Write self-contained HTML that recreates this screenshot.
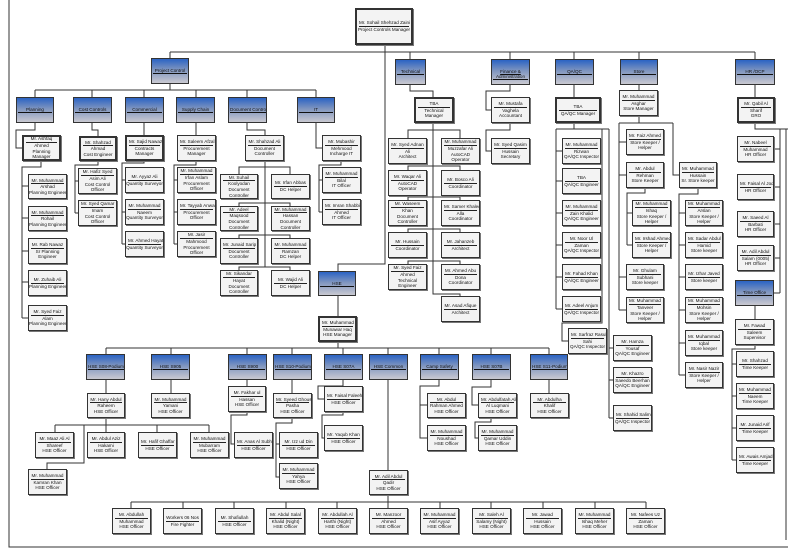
<!DOCTYPE html>
<html><head><meta charset="utf-8">
<style>
html,body{margin:0;padding:0;background:#fff;}
#c{position:relative;width:788px;height:553px;overflow:hidden;background:#fff;font-family:"Liberation Sans",sans-serif;}
.b{position:absolute;box-sizing:border-box;border:1px solid #333;background:#f3f3f3;box-shadow:1px 1px 0 #777;font-size:4.6px;line-height:5.6px;text-align:center;color:#111;display:flex;flex-direction:column;justify-content:center;overflow:hidden;white-space:nowrap;}
.b.t{border:2px solid #333;}
.b .n{border-bottom:0.8px solid #222;margin:0 2px;}
.h{position:absolute;box-sizing:border-box;border:1px solid #333;background:linear-gradient(#2b63c4 0%,#7f95bf 45%,#c9c9d1 100%);font-size:4.6px;text-align:center;color:#111;overflow:hidden;white-space:nowrap;}
.h span{display:block;margin:9px 1px 0;border-bottom:0.8px solid #111;text-decoration:underline;}
svg{position:absolute;left:0;top:0;}
</style></head><body>
<div id="c">
<svg width="788" height="553" id="s"></svg>
</div>
<script>
var c=document.getElementById('c'),s=document.getElementById('s');
function B(x,y,x2,y2,t,th){var d=document.createElement('div');d.className='b'+(th?' t':'');d.style.left=x+'px';d.style.top=y+'px';d.style.width=(x2-x)+'px';d.style.height=(y2-y)+'px';var p=t.split('|');d.innerHTML='<div class="n">'+p[0]+'</div>'+(p[1]?'<div>'+p[1]+'</div>':'');c.appendChild(d);}
function H(x,y,x2,y2,t){var d=document.createElement('div');d.className='h';d.style.left=x+'px';d.style.top=y+'px';d.style.width=(x2-x)+'px';d.style.height=(y2-y)+'px';d.innerHTML='<span>'+t+'</span>';c.appendChild(d);}
var P='';function L(){var a=[].slice.call(arguments),q=[];for(var i=0;i<a.length;i+=2)q.push(a[i]+','+a[i+1]);P+='<polyline points="'+q.join(' ')+'" fill="none" stroke="#333" stroke-width="1"/>';}
function T(x1,x2,ys){ys.forEach(function(y){L(x1,y,x2,y);});}
// frame
L(9,0,9,547,788,547);
// top
L(385,45,385,264,338,264,338,271);
L(170,52,755,52);[170,410,510,574,639,755].forEach(function(x){L(x,52,x,59);});
L(170,84,170,90);L(35,90,316,90);[35,92,144,196,247,316].forEach(function(x){L(x,90,x,97);});
// planning
L(35,123,35,130,16,130,16,148,22,148);L(41,161,41,167,22,167,22,318);T(22,28,[186,218,251,282,318]);
// cost
L(92,123,92,130,98,130,98,136);L(98,161,98,165,75,165,75,213);T(75,78,[181,213]);
// commercial
L(144,123,144,135);L(144,161,144,163,122,163,122,244);T(122,125,[180,212,244]);
// supply
L(196,123,196,135);L(196,161,196,165,174,165,174,244);T(174,177,[180,212,244]);
// doc
L(247,123,247,130,265,130,265,135);L(265,161,265,267);
[[167,174],[203,206],[235,238],[267,270]].forEach(function(r){L(239,r[1],239,r[0],290,r[0],290,r[1]);});
// IT
L(316,123,316,148,322,148);L(341,161,341,165,319,165,319,212);T(319,322,[180,212]);
// technical
L(410,85,410,91,433,91,433,97);L(433,123,433,294,460,294,460,296);
[[130,138],[166,170],[197,200],[229,232],[261,264]].forEach(function(r){L(408,r[1],408,r[0],460,r[0],460,r[1]);});
// finance
L(510,85,510,91,486,91,486,110,491,110);L(510,123,510,130,486,130,486,151,491,151);
// QAQC
L(574,85,574,97);L(574,123,574,129);L(556,129,609,129);L(556,129,556,309);T(556,562,[151,181,213,245,277,309]);
L(602,129,602,323,562,323,562,341,568,341);L(609,129,609,418);T(609,613,[348,380,418]);
// store
L(639,85,639,90);L(639,116,639,123);L(619,123,673,123);L(619,123,619,310);T(619,626,[142,175,277,310]);
L(673,123,673,175,679,175);L(645,188,645,193,627,193,627,245);T(627,632,[213,245]);
L(698,188,698,194,679,194,679,375);T(679,685,[213,245,277,310,343,375]);
// HR
L(755,85,755,97);L(755,123,755,129,788,129);L(780,129,780,293);T(774,780,[149,187,224,258,293]);
L(786,129,786,540);
L(755,306,755,319);L(755,345,755,349,732,349,732,460);T(732,736,[364,396,428,460]);
// HSE
L(338,296,338,316);L(338,341,338,348);L(106,348,549,348);[106,171,247,292,343,388,439,491,549].forEach(function(x){L(x,348,x,354);});
L(106,380,106,393);L(106,418,106,425);L(55,425,209,425);[55,106,157,209].forEach(function(x){L(x,425,x,432);});L(84,425,84,463,47,463,47,469);
L(171,380,171,393);
L(247,380,247,386);L(247,412,247,415,231,415,231,444,234,444);
L(292,380,292,393);L(292,418,292,423,276,423,276,477,279,477);L(276,444,279,444);
L(343,380,343,386,318,386,318,399,324,399);L(343,412,343,415,322,415,322,438,324,438);
L(388,380,388,470);L(388,495,388,502);L(131,502,646,502);[131,183,234,286,337,388,440,491,543,595,646].forEach(function(x){L(x,502,x,508);});
L(439,380,439,386,420,386,420,438,427,438);L(420,405,427,405);
L(491,380,491,387,472,387,472,405,478,405);L(491,418,491,422,475,422,475,438,478,438);
L(549,380,549,393);
s.innerHTML=P;

B(355,8,413,45,'Mr. Sohail Shehzad Zaini|Project Controls Manager',1);
H(151,58,189,84,'Project Control');H(395,59,426,85,'Technical');H(491,59,530,85,'Finance &amp;<br>Administration');
H(555,59,594,85,'QA/QC');H(620,59,658,85,'Store');H(735,59,775,85,'HR /OCP');
H(16,97,54,123,'Planning');H(73,97,112,123,'Cost Controls');H(125,97,164,123,'Commercial');H(176,97,215,123,'Supply Chain');H(228,97,267,123,'Document Control');H(297,97,335,123,'IT');
B(22,135,61,161,'Mr. Ashfaq|Ahmed<br>Planning<br>Manager',1);
B(28,174,67,199,'Mr. Muhammad|Arshad<br>Planning Engineer');B(28,206,67,231,'Mr. Muhammad|Rohail<br>Planning Engineer');
B(28,238,67,264,'Mr. Rab Nawaz|Sr Planning<br>Engineer');B(28,270,67,296,'Mr. Zuhaib Ali|Planning Engineer');B(28,305,67,331,'Mr. Syed Faiz|Alam<br>Planning Engineer');
B(79,136,117,161,'Mr. Shahzad|Ahmad<br>Cost Engineer',1);
B(78,168,117,194,'Mr. Hafiz Syed|Asim Ali<br>Cost Control<br>Officer');B(78,200,117,226,'Mr. Syed Qamar|Imam<br>Cost Control<br>Officer');
B(125,135,164,161,'Mr. Sajid Nawaz|Contracts<br>Manager',1);
B(125,167,164,193,'Mr. Ayyaz Ali|Quantity Surveyor');B(125,199,164,225,'Mr. Muhammad|Naeem<br>Quantity Surveyor');B(125,231,164,257,'Mr. Ahmed Hayat|Quantity Surveyor');
B(177,135,216,161,'Mr. Saleem Afzal|Procurement<br>Manager');
B(177,167,216,193,'Mr. Muhammad|Irfan Aslam<br>Procurement<br>Officer');B(177,199,216,225,'Mr. Tayyab Anwar|Procurement<br>Officer');B(177,231,216,257,'Mr. Jasir|Mahmood<br>Procurement<br>Officer');
B(245,135,284,161,'Mr. Shahzad Ali|Document<br>Controller');
B(220,174,258,199,'Mr. Suhail|Koolyodan<br>Document<br>Controller');B(271,174,310,199,'Mr. Irfan Abbas|DC Helper');
B(220,206,258,231,'Mr. Adeel|Maqsood<br>Document<br>Controller');B(271,206,310,231,'Mr. Muhammad|Hassan<br>Document<br>Controller');
B(220,238,258,264,'Mr. Junaid Sarip|Document<br>Controller');B(271,238,310,264,'Mr. Muhammad|Ramzan<br>DC Helper');
B(220,270,258,296,'Mr. Sikandar|Hayat<br>Document<br>Controller');B(271,270,310,296,'Mr. Wajid Ali|DC Helper');
B(322,135,361,161,'Mr. Mubashir|Mehmood<br>Incharge IT');B(322,167,361,193,'Mr. Muhammad|Bilal<br>IT Officer');B(322,199,361,225,'Mr. Imran Shabbir|Ahmed<br>IT Officer');
B(414,97,454,123,'TBA|Technical<br>Manager',1);
B(388,138,427,164,'Mr. Syed Adnan|Ali<br>Architect');B(441,138,480,164,'Mr. Muhammad|Muzzafar Ali<br>AutoCAD<br>Operator');
B(388,170,427,196,'Mr. Waqar Ali|AutoCAD<br>Operator');B(441,170,480,196,'Mr. Bosco Ali|Coordinator');
B(388,200,427,226,'Mr. Waseem|Khan<br>Document<br>Controller');B(441,200,480,226,'Mr. Samer Khaled|Alla<br>Coordinator');
B(388,232,427,258,'Mr. Hussain|Coordinator');B(441,232,480,258,'Mr. Jahanzeb|Architect');
B(388,264,427,290,'Mr. Syed Faiz|Ahmed<br>Technical<br>Engineer');B(441,264,480,290,'Mr. Ahmed Abu|Dona<br>Coordinator');
B(441,296,480,322,'Mr. Asad Afique|Architect');
B(491,97,530,123,'Mr. Mustafa|Vaghela<br>Accountant');B(491,138,530,164,'Mr. Syed Qasim|Hussain<br>Secretary');
B(555,97,601,123,'TBA|QA/QC Manager',1);
B(562,138,601,164,'Mr. Muhammad|Rizwan<br>QA/QC Inspector');B(562,168,601,194,'TBA|QA/QC Engineer');
B(562,200,601,226,'Mr. Muhammad|Zain Khalid<br>QA/QC Engineer');B(562,232,601,258,'Mr. Noor Ul|Zaman<br>QA/QC Inspector');
B(562,264,601,290,'Mr. Fahad Khan|QA/QC Engineer');B(562,296,601,322,'Mr. Adeel Anjum|QA/QC Inspector');
B(568,328,607,354,'Mr. Sarfraz Rasul|Sahi<br>QA/QC Inspector');
B(613,335,652,361,'Mr. Hamza|Yousaf<br>QA/QC Engineer');B(613,367,652,393,'Mr. Khazro|Saeedo Beerhan<br>QA/QC Engineer');B(613,405,652,431,'Mr. Shahid Salim|QA/QC Inspector');
B(619,90,658,116,'Mr. Muhammad|Asghar<br>Store Manager');
B(626,129,664,155,'Mr. Faiz Ahmed|Store Keeper /<br>Helper');B(626,162,664,188,'Mr. Abdul|Rehman<br>Store Keeper');
B(632,200,671,226,'Mr. Muhammad|Ishaq<br>Store Keeper /<br>Helper');B(632,232,671,258,'Mr. Irshad Ahmed|Store Keeper /<br>Helper');
B(626,264,664,290,'Mr. Ghulam|Subhani<br>Store keeper');B(626,297,664,323,'Mr. Muhammad|Tanveer<br>Store Keeper /<br>Helper');
B(679,162,717,188,'Mr. Muhammad|Hussain<br>Sr. Store keeper');
B(685,200,723,226,'Mr. Muhammad|Arslan<br>Store Keeper /<br>Helper');B(685,232,723,258,'Mr. Sadar Abdul|Hamid<br>Store keeper');
B(685,264,723,290,'Mr. Izhar Javed|Store keeper');B(685,297,723,323,'Mr. Muhammad|Mohsin<br>Store Keeper /<br>Helper');
B(685,330,723,356,'Mr. Muhammad|Iqbal<br>Store keeper');B(685,362,723,388,'Mr. Nasir Nazir|Store Keeper /<br>Helper');
B(737,97,775,123,'Mr. Qabil Al|Sharif<br>GRO',1);
B(737,136,774,162,'Mr. Nabeel|Muhammad<br>HR Officer');B(737,174,774,200,'Mr. Faisal Al Jodi|HR Officer');
B(737,211,774,237,'Mr. Saeed Al|Barbati<br>HR Officer');B(737,245,774,271,'Mr. Adil Abdul|Salam (0005)<br>HR Officer');
H(735,280,774,306,'Time Office');
B(735,319,774,345,'Mr. Fawad|Saleem<br>Supervisor');
B(736,351,774,377,'Mr. Shahzad|Time Keeper');B(736,383,774,409,'Mr. Muhammad|Naeem<br>Time Keeper');
B(736,415,774,441,'Mr. Junaid Arif|Time Keeper');B(736,447,774,473,'Mr. Awais Amjad|Time Keeper');
H(318,271,356,296,'HSE');
B(318,316,357,342,'Mr. Muhammad|Munawar Haq<br>HSE Manager',1);
H(86,354,125,380,'HSE S08-Podium');H(151,354,190,380,'HSE S905');H(228,354,267,380,'HSE S900');H(273,354,312,380,'HSE S10-Podium');
H(324,354,363,380,'HSE S07A');H(369,354,408,380,'HSE Common');H(420,354,459,380,'Camp Safety');H(472,354,511,380,'HSE S07B');H(530,354,568,380,'HSE S11-Podium');
B(87,393,125,418,'Mr. Hany Abdul|Raheem<br>HSE Officer');B(151,393,190,418,'Mr. Muhammad|Yamani<br>HSE Officer');
B(35,432,74,458,'Mr. Maaz Ali Al|Shareef<br>HSE Officer');B(87,432,125,458,'Mr. Abdul Aziz|Hakami<br>HSE Officer');
B(138,432,177,458,'Mr. Hafif Ghaffar|HSE Officer');B(190,432,229,458,'Mr. Muhammad|Mubarram<br>HSE Officer');
B(28,469,67,495,'Mr. Muhammad|Kamran Khan<br>HSE Officer');
B(228,386,266,412,'Mr. Fakhar ul|Hassan<br>HSE Officer');B(234,432,273,458,'Mr. Anas Al Subhi|HSE Officer');
B(273,393,312,418,'Mr. Syeed Ghous|Pasha<br>HSE Officer');B(279,432,318,458,'Mr. Izz ud Din|HSE Officer');B(279,463,318,489,'Mr. Muhammad|Yahya<br>HSE Officer');
B(324,386,363,412,'Mr. Faisal Faleeh|HSE Officer');B(324,425,363,451,'Mr. Yaqub Khan|HSE Officer');
B(369,470,408,495,'Mr. Adil Abdul|Qadir<br>HSE Officer');
B(427,393,466,418,'Mr. Abdul|Rahman Ahmed<br>HSE Officer');B(427,425,466,451,'Mr. Muhammad|Noushad<br>HSE Officer');
B(478,393,517,418,'Mr. Abdulfatah Ali|Al Luqmani<br>HSE Officer');B(478,425,517,451,'Mr. Muhammad|Qamar Uddin<br>HSE Officer');
B(530,393,569,418,'Mr. Abdulha|Khalif<br>HSE Officer');
var bt=[['Mr. Abdullah','Muhammad<br>HSE Officer'],['Workers 06 Nos','Fire Fighter'],['Mr. Shafiullah','HSE Officer'],['Mr. Abdul Salal','Khalid (Night)<br>HSE Officer'],['Mr. Abdullah Al','Harthi (Night)<br>HSE Officer'],['Mr. Manzoor','Ahmed<br>HSE Officer'],['Mr. Muhammad','Asif Ayyaz<br>HSE Officer'],['Mr. Saleh Al','Salamy (Night)<br>HSE Officer'],['Mr. Jawad','Hussain<br>HSE Officer'],['Mr. Muhammad','Ishaq Meher<br>HSE Officer'],['Mr. Nafees Uz','Zaman<br>HSE Officer']];
[112,163,215,266,318,369,420,472,523,575,626].forEach(function(x,i){B(x,508,x+39,534,bt[i][0]+'|'+bt[i][1]);});
</script>
</body></html>
